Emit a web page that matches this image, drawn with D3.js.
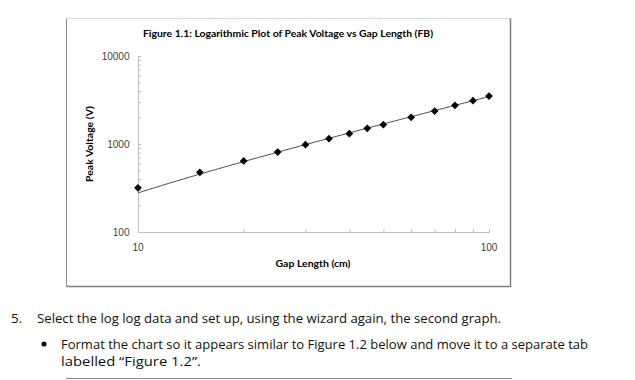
<!DOCTYPE html>
<html>
<head>
<meta charset="utf-8">
<script src="https://cdn.jsdelivr.net/npm/d3@7"></script>
<style>
  html, body { margin: 0; padding: 0; background: #fff; }
  svg { display: block; }
</style>
</head>
<body>
<svg id="chart" width="635" height="380"></svg>
<script>
// ---- data ----
const gapLength = [10, 15, 20, 25, 30, 35, 40, 45, 50, 60, 70, 80, 90, 100];
const peakVoltage = [318, 477, 641, 811, 982, 1148, 1309, 1508, 1657, 2011, 2371, 2754, 3106, 3510];
const xTickLabels = [10, 100];
const yTickLabels = [100, 1000, 10000];
const titleText = "Figure 1.1: Logarithmic Plot of Peak Voltage vs Gap Length (FB)";
const xTitle = "Gap Length (cm)";
const yTitle = "Peak Voltage (V)";
const bodyLines = [
  "Select the log log data and set up, using the wizard again, the second graph.",
  "Format the chart so it appears similar to Figure 1.2 below and move it to a separate tab",
  "labelled \u201cFigure 1.2\u201d."
];

const svg = d3.select("#chart");

// chart frame
const frame = { x: 66.5, y: 18.5, w: 444, h: 268 };
svg.append("rect").attr("x", frame.x).attr("y", frame.y).attr("width", frame.w).attr("height", frame.h)
  .attr("fill", "#fff").attr("stroke", "#d9d9d9").attr("stroke-width", 1);
svg.append("line").attr("x1", frame.x).attr("x2", frame.x).attr("y1", frame.y).attr("y2", frame.y + frame.h)
  .attr("stroke", "#8c8c8c").attr("stroke-width", 1);
svg.append("line").attr("x1", frame.x + frame.w).attr("x2", frame.x + frame.w).attr("y1", frame.y).attr("y2", frame.y + frame.h + 0.5)
  .attr("stroke", "#7f7f7f").attr("stroke-width", 1.5);
svg.append("line").attr("x1", frame.x).attr("x2", frame.x + frame.w + 0.5).attr("y1", frame.y + frame.h).attr("y2", frame.y + frame.h)
  .attr("stroke", "#7f7f7f").attr("stroke-width", 1.5);

// scales
const x = d3.scaleLog().domain([10, 100]).range([138, 489]);
const y = d3.scaleLog().domain([100, 10000]).range([232, 56]);

const axisColor = "#bfbfbf";
const tickFont = "'Liberation Sans', Arial, sans-serif";

// y axis (ticks point inside)
const yAxis = d3.axisRight(y)
  .tickValues(y.ticks())
  .tickSize(3)
  .tickFormat("");
const gy = svg.append("g").attr("transform", `translate(${x.range()[0]},0)`).call(yAxis);
gy.select(".domain").attr("stroke", axisColor);
gy.selectAll(".tick line").attr("stroke", axisColor);

// y tick labels
svg.append("g").selectAll("text").data(yTickLabels).join("text")
  .attr("x", 129.5).attr("y", d => y(d)).attr("dy", "0.35em")
  .attr("text-anchor", "end")
  .attr("font-family", tickFont).attr("font-size", 10).attr("fill", "#404040")
  .text(d => d);

// x axis (ticks point up / inside)
const xAxis = d3.axisTop(x)
  .tickValues(x.ticks())
  .tickSize(3)
  .tickFormat("");
const gx = svg.append("g").attr("transform", `translate(0,${y.range()[0]})`).call(xAxis);
gx.select(".domain").attr("stroke", axisColor);
gx.selectAll(".tick line").attr("stroke", axisColor);

svg.append("g").selectAll("text").data(xTickLabels).join("text")
  .attr("x", d => x(d)).attr("y", 247.5).attr("dy", "0.35em")
  .attr("text-anchor", "middle")
  .attr("font-family", tickFont).attr("font-size", 10).attr("fill", "#404040")
  .text(d => d);

// linear trendline (least squares on the data), drawn on log-log axes
const n = gapLength.length;
const mx = d3.mean(gapLength), my = d3.mean(peakVoltage);
let sxy = 0, sxx = 0;
for (let i = 0; i < n; i++) {
  sxy += (gapLength[i] - mx) * (peakVoltage[i] - my);
  sxx += (gapLength[i] - mx) ** 2;
}
const slope = sxy / sxx, intercept = my - slope * mx;
const trendX = d3.range(0, 101).map(i => 10 * Math.pow(10, i / 100));
svg.append("path")
  .datum(trendX)
  .attr("fill", "none").attr("stroke", "#4d4d4d").attr("stroke-width", 1)
  .attr("d", d3.line().x(d => x(d)).y(d => y(slope * d + intercept)));

// markers (diamonds)
const pts = gapLength.map((g, i) => ({ g, v: peakVoltage[i] }));
svg.append("g").selectAll("path").data(pts).join("path")
  .attr("d", d3.symbol().type(d3.symbolSquare).size(30))
  .attr("transform", d => `translate(${x(d.g)},${y(d.v)}) rotate(45)`)
  .attr("fill", "#000");

// titles
const boldFont = "Lato, 'Open Sans', 'Liberation Sans', sans-serif";
svg.append("text").attr("x", 288).attr("y", 36.5).attr("text-anchor", "middle")
  .attr("font-family", boldFont).attr("font-weight", "bold").attr("font-size", 9.5).attr("fill", "#000")
  .attr("textLength", 290).attr("lengthAdjust", "spacingAndGlyphs")
  .text(titleText);

svg.append("text").attr("x", 313).attr("y", 267).attr("text-anchor", "middle")
  .attr("font-family", boldFont).attr("font-weight", "bold").attr("font-size", 9).attr("fill", "#000")
  .attr("textLength", 75).attr("lengthAdjust", "spacingAndGlyphs")
  .text(xTitle);

svg.append("text").attr("transform", "translate(92.5,144) rotate(-90)").attr("text-anchor", "middle")
  .attr("font-family", boldFont).attr("font-weight", "bold").attr("font-size", 9).attr("fill", "#000")
  .attr("textLength", 76).attr("lengthAdjust", "spacingAndGlyphs")
  .text(yTitle);

// document text below the chart
const bodyFont = "'Liberation Sans Narrow', 'Open Sans', 'Liberation Sans', sans-serif";
const bodyColor = "#111";
const bodySize = 13.5;
svg.append("text").attr("x", 11).attr("y", 323)
  .attr("font-family", bodyFont).attr("font-size", bodySize).attr("fill", bodyColor).text("5.");
svg.append("text").attr("x", 37).attr("y", 323)
  .attr("font-family", bodyFont).attr("font-size", bodySize).attr("fill", bodyColor)
  .attr("textLength", 464).attr("lengthAdjust", "spacingAndGlyphs")
  .text(bodyLines[0]);
svg.append("circle").attr("cx", 44).attr("cy", 344).attr("r", 2.6).attr("fill", bodyColor);
svg.append("text").attr("x", 61).attr("y", 348.5)
  .attr("font-family", bodyFont).attr("font-size", bodySize).attr("fill", bodyColor)
  .attr("textLength", 527).attr("lengthAdjust", "spacingAndGlyphs")
  .text(bodyLines[1]);
svg.append("text").attr("x", 61).attr("y", 366)
  .attr("font-family", bodyFont).attr("font-size", bodySize).attr("fill", bodyColor)
  .attr("textLength", 140).attr("lengthAdjust", "spacingAndGlyphs")
  .text(bodyLines[2]);
svg.append("line").attr("x1", 66).attr("x2", 512).attr("y1", 378.5).attr("y2", 378.5)
  .attr("stroke", "#8c8c8c").attr("stroke-width", 1);
</script>
</body>
</html>
